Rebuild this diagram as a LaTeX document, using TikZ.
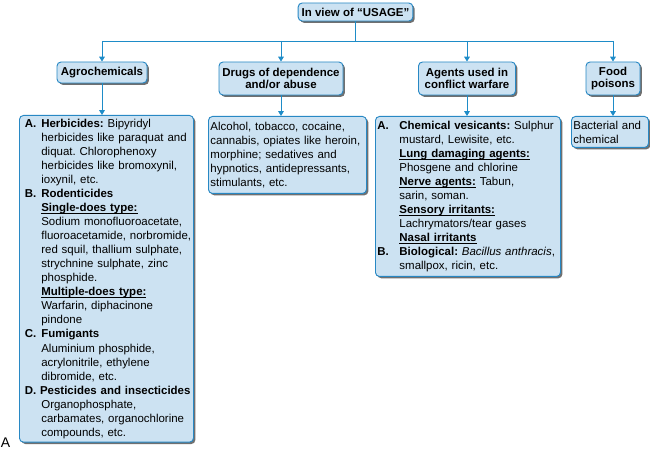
\documentclass[tikz,border=0pt]{standalone}
\usepackage{fontspec}
\setmainfont{Liberation Sans}
\usepackage{tikz}
\usetikzlibrary{arrows.meta,positioning,calc,shadows}

\definecolor{boxfill}{RGB}{204,226,242}
\definecolor{boxline}{RGB}{40,136,196}
\definecolor{wireblue}{RGB}{30,140,200}

\frenchspacing
\newlength\hangw
\newcommand\bodyfont{\fontsize{8.6}{10.54}\selectfont}
\newcommand\headfont{\fontsize{8.6}{9.3}\selectfont\bfseries}
\newcommand\itemline[2]{\makebox[\hangw][l]{\textbf{#1}}\mbox{#2}}
\newcommand\contline[1]{\hspace*{\hangw}\mbox{#1}}
\newcommand\uhead[1]{\underline{\smash{\textbf{#1}}}}

\begin{document}
\begin{tikzpicture}[x=0.75pt,y=-0.75pt,
  usage/.style={draw=boxline,fill=boxfill,line width=0.7pt,rounded corners=3pt,
    drop shadow={shadow xshift=1.4pt,shadow yshift=-1.4pt,fill=black!70,opacity=0.8}},
  headbox/.style={usage,font=\headfont,align=center,inner sep=1pt},
  listbox/.style={usage,font=\bodyfont,align=left,anchor=north west,inner ysep=2pt},
  wire/.style={draw=wireblue,line width=0.7pt},
  link/.style={wire,-{Triangle[length=3.6pt,width=4.2pt]}}]
\useasboundingbox (0,0) rectangle (650,452);
% top and category boxes
\node[headbox,minimum width=86pt,minimum height=13.5pt] (top) at (355.5,12) {In view of “USAGE”};
\node[headbox,minimum width=67.5pt,minimum height=15.75pt] (agro) at (102,72.5) {Agrochemicals};
\node[headbox,minimum width=93pt,minimum height=24.75pt] (drugs) at (281,78.5) {Drugs of dependence\\and/or abuse};
\node[headbox,minimum width=72.75pt,minimum height=24.75pt] (agents) at (467,78.5) {Agents used in\\conflict warfare};
\node[headbox,minimum width=40.5pt,minimum height=24.75pt] (food) at (613,78.5) {Food\\poisons};
% detail boxes
\node[listbox,inner xsep=4pt,text width=122.5pt,minimum height=245pt] (agrolist) at (19,115) {\setlength\hangw{12.4pt}%
\itemline{A.}{\textbf{Herbicides:} Bipyridyl}\\
\contline{herbicides like paraquat and}\\
\contline{diquat. Chlorophenoxy}\\
\contline{herbicides like bromoxynil,}\\
\contline{ioxynil, etc.}\\
\itemline{B.}{\textbf{Rodenticides}}\\
\contline{\uhead{Single-does type:}}\\
\contline{Sodium monofluoroacetate,}\\
\contline{fluoroacetamide, norbromide,}\\
\contline{red squil, thallium sulphate,}\\
\contline{strychnine sulphate, zinc}\\
\contline{phosphide.}\\
\contline{\uhead{Multiple-does type:}}\\
\contline{Warfarin, diphacinone}\\
\contline{pindone}\\
\itemline{C.}{\textbf{Fumigants}}\\
\contline{Aluminium phosphide,}\\
\contline{acrylonitrile, ethylene}\\
\contline{dibromide, etc.}\\
\mbox{\textbf{D. Pesticides and insecticides}}\\
\contline{Organophosphate,}\\
\contline{carbamates, organochlorine}\\
\contline{compounds, etc.}};
\node[listbox,inner xsep=1.5pt,text width=115.5pt,minimum height=57.75pt] (drugslist) at (208,116) {%
\mbox{Alcohol, tobacco, cocaine,}\\
\mbox{cannabis, opiates like heroin,}\\
\mbox{morphine; sedatives and}\\
\mbox{hypnotics, antidepressants,}\\
\mbox{stimulants, etc.}};
\node[listbox,inner xsep=1.5pt,text width=135.75pt,minimum height=120pt] (agentslist) at (375,116) {\setlength\hangw{16.5pt}%
\itemline{A.}{\textbf{Chemical vesicants:} Sulphur}\\
\contline{mustard, Lewisite, etc.}\\
\contline{\uhead{Lung damaging agents:}}\\
\contline{Phosgene and chlorine}\\
\contline{\uhead{Nerve agents:} Tabun,}\\
\contline{sarin, soman.}\\
\contline{\uhead{Sensory irritants:}}\\
\contline{Lachrymators/tear gases}\\
\contline{\uhead{Nasal irritants}}\\
\itemline{B.}{\textbf{Biological:} \textit{Bacillus anthracis},}\\
\contline{smallpox, ricin, etc.}};
\node[listbox,inner xsep=1.5pt,text width=54.75pt,minimum height=23.25pt] (foodlist) at (571,116) {%
\mbox{Bacterial and}\\
\mbox{chemical}};
\node[font=\fontsize{10.5}{12}\selectfont,anchor=base west,inner sep=0pt] (panel) at (0.5,447) {A};
% connectors
\coordinate (bus) at (355.5,41);
\draw[wire] (top) -- (bus);
\draw[wire] (bus -| agro) -- (bus -| food);
\foreach \n in {agro,drugs,agents,food}
  \draw[link] (bus -| \n) -- (\n);
\foreach \n in {agro,drugs,agents,food}
  \draw[link] (\n) -- (\n.south |- \n list.north);
\end{tikzpicture}
\end{document}
